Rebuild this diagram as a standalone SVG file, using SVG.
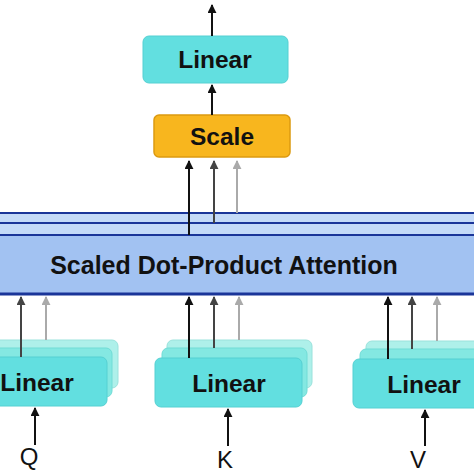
<svg xmlns="http://www.w3.org/2000/svg" width="474" height="474" viewBox="0 0 474 474">
<defs>
<style>
.lbl{font-family:"Liberation Sans",Arial,sans-serif;font-weight:bold;font-size:24.5px;fill:#111;text-anchor:middle}
.att{font-size:25px}
.io{font-family:"Liberation Sans",Arial,sans-serif;font-size:24px;fill:#111;text-anchor:middle}
.lin{fill:#62dfe0;stroke:#55d0d2;stroke-width:1}
.lin2{fill:#84e8e2;stroke:#70dcd6;stroke-width:1}
.lin3{fill:#aef0ea;stroke:#9ae2dc;stroke-width:1}
.band{stroke:#1a3599;stroke-width:2}
.a1{stroke:#111;stroke-width:2;fill:none}
.a2{stroke:#444;stroke-width:2;fill:none}
.a3{stroke:#aaa;stroke-width:2;fill:none}
</style>
<marker id="m1" viewBox="0 0 10 10" refX="9" refY="5" markerWidth="4.5" markerHeight="4.5" orient="auto"><path d="M0,0 L10,5 L0,10 z" fill="#111"/></marker>
<marker id="m2" viewBox="0 0 10 10" refX="9" refY="5" markerWidth="4.5" markerHeight="4.5" orient="auto"><path d="M0,0 L10,5 L0,10 z" fill="#444"/></marker>
<marker id="m3" viewBox="0 0 10 10" refX="9" refY="5" markerWidth="4.5" markerHeight="4.5" orient="auto"><path d="M0,0 L10,5 L0,10 z" fill="#aaa"/></marker>
</defs>
<rect width="474" height="474" fill="#fff"/>

<g id="attention">
<rect x="-2" y="213" width="478" height="22" fill="#c4daf8"/>
<rect x="-2" y="235" width="478" height="59" fill="#a2c2f2"/>
<line class="band" x1="0" y1="213" x2="474" y2="213"/>
<line class="band" x1="0" y1="223" x2="474" y2="223"/>
<line class="band" x1="0" y1="235" x2="474" y2="235"/>
<line x1="0" y1="294" x2="474" y2="294" stroke="#1a3599" stroke-width="3"/>
<text class="lbl att" x="224" y="274">Scaled Dot-Product Attention</text>
</g>

<g id="linear-out">
<rect class="lin" x="143" y="36" width="145" height="47" rx="6"/>
<text class="lbl" x="215" y="68">Linear</text>
</g>

<g id="scale">
<rect x="154" y="115" width="136" height="42" rx="5" fill="#f8b61e" stroke="#dc9a10" stroke-width="1.5"/>
<text class="lbl" x="222" y="145">Scale</text>
</g>

<g id="linear-q">
<rect class="lin3" x="-29" y="340" width="147" height="48" rx="6"/>
<rect class="lin2" x="-35" y="348" width="147" height="49" rx="6"/>
<rect class="lin" x="-40" y="357" width="147" height="49" rx="6"/>
<text class="lbl" x="37" y="391">Linear</text>
</g>

<g id="linear-k">
<rect class="lin3" x="167" y="340" width="145" height="48" rx="6"/>
<rect class="lin2" x="162" y="348" width="145" height="49" rx="6"/>
<rect class="lin" x="155" y="358" width="147" height="49" rx="6"/>
<text class="lbl" x="229" y="392">Linear</text>
</g>

<g id="linear-v">
<rect class="lin3" x="366" y="341" width="147" height="48" rx="6"/>
<rect class="lin2" x="360" y="349" width="147" height="49" rx="6"/>
<rect class="lin" x="353" y="359" width="147" height="49" rx="6"/>
<text class="lbl" x="424" y="393">Linear</text>
</g>

<g id="inputs">
<text class="io" x="29" y="465">Q</text>
<text class="io" x="225" y="468">K</text>
<text class="io" x="418" y="468">V</text>
</g>

<g id="connectors">
<line class="a1" x1="212" y1="36" x2="212" y2="5" marker-end="url(#m1)"/>
<line class="a1" x1="212" y1="115" x2="212" y2="85" marker-end="url(#m1)"/>
<line class="a1" x1="189" y1="235" x2="189" y2="161" marker-end="url(#m1)"/>
<line class="a2" x1="214" y1="223" x2="214" y2="161" marker-end="url(#m2)"/>
<line class="a3" x1="237" y1="213" x2="237" y2="161" marker-end="url(#m3)"/>

<line class="a2" x1="21" y1="357" x2="21" y2="297" marker-end="url(#m2)"/>
<line class="a3" x1="46" y1="340" x2="46" y2="297" marker-end="url(#m3)"/>

<line class="a1" x1="189" y1="358" x2="189" y2="297" marker-end="url(#m1)"/>
<line class="a2" x1="214" y1="348" x2="214" y2="297" marker-end="url(#m2)"/>
<line class="a3" x1="239" y1="340" x2="239" y2="297" marker-end="url(#m3)"/>

<line class="a1" x1="388" y1="359" x2="388" y2="297" marker-end="url(#m1)"/>
<line class="a2" x1="412" y1="349" x2="412" y2="297" marker-end="url(#m2)"/>
<line class="a3" x1="437" y1="341" x2="437" y2="297" marker-end="url(#m3)"/>

<line class="a1" x1="35" y1="445" x2="35" y2="408" marker-end="url(#m1)"/>
<line class="a1" x1="228" y1="446" x2="228" y2="409" marker-end="url(#m1)"/>
<line class="a1" x1="425" y1="446" x2="425" y2="410" marker-end="url(#m1)"/>
</g>
</svg>
